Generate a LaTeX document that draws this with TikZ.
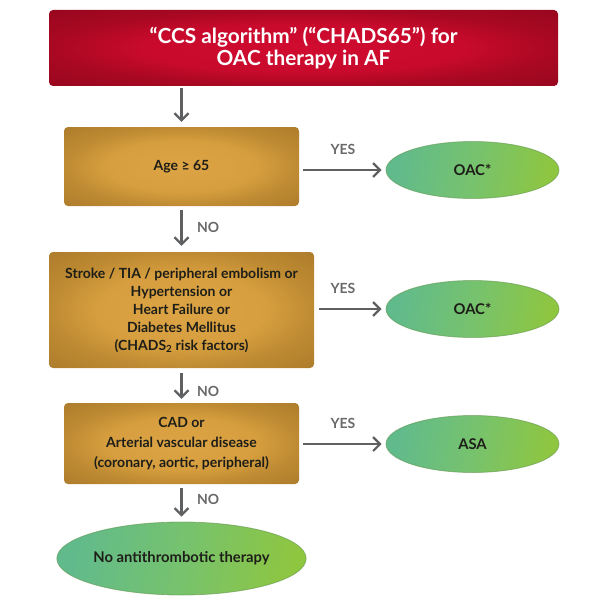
\documentclass[tikz,border=0pt]{standalone}
\usepackage{fontspec}
\setmainfont{Lato}
\usetikzlibrary{arrows.meta,shapes.geometric}
\definecolor{redA}{RGB}{208,12,48}
\definecolor{redB}{RGB}{200,10,44}
\definecolor{redC}{RGB}{168,8,34}
\definecolor{redD}{RGB}{130,6,26}
\definecolor{goldA}{RGB}{220,164,68}
\definecolor{goldB}{RGB}{214,158,62}
\definecolor{goldC}{RGB}{190,138,50}
\definecolor{goldD}{RGB}{150,106,36}
\definecolor{greenL}{RGB}{96,186,140}
\definecolor{greenM}{RGB}{118,194,110}
\definecolor{greenR}{RGB}{142,198,64}
\definecolor{greenEdge}{RGB}{100,150,80}
\definecolor{arrowgray}{RGB}{95,96,98}
\definecolor{lblgray}{RGB}{105,105,105}
\definecolor{textdark}{RGB}{30,30,25}
\pgfdeclareradialshading{redvig}{\pgfpoint{0bp}{0bp}}{color(0bp)=(redA); color(16bp)=(redB); color(25bp)=(redC); color(50bp)=(redD)}
\pgfdeclareradialshading{goldvig}{\pgfpoint{0bp}{0bp}}{color(0bp)=(goldA); color(16bp)=(goldB); color(25bp)=(goldC); color(50bp)=(goldD)}
\begin{document}
\begin{tikzpicture}[x=1pt,y=-1pt,
  titlebox/.style={rectangle, rounded corners=4pt, shading=redvig, minimum width=509pt, minimum height=76pt, inner sep=0pt, text=white, align=center, font=\fontsize{20.8}{22}\selectfont\bfseries},
  decbox/.style={rectangle, rounded corners=4pt, shading=goldvig, inner sep=0pt, text=textdark, align=center, font=\fontsize{14}{18}\selectfont\bfseries},
  outoval/.style={ellipse, left color=greenL, right color=greenR, middle color=greenM, shading angle=80, draw=greenEdge, draw opacity=0.6, line width=0.8pt, inner sep=0pt, text=textdark, font=\fontsize{14.8}{16}\selectfont\bfseries},
  flow/.style={draw=arrowgray, line width=2.2pt, -{Straight Barb[length=7pt,width=14pt,line width=2.2pt]}},
  lbl/.style={text=lblgray, font=\fontsize{14}{15}\selectfont\bfseries, inner sep=0pt}
]
\useasboundingbox (0,0) rectangle (600,607);
\node[titlebox] (title) at (303.5,48) {``CCS algorithm'' (``CHADS65'') for\\OAC therapy in AF};
\node[decbox, minimum width=235pt, minimum height=79pt] (age) at (181.5,166.5) {Age ≥ 65};
\node[decbox, minimum width=265pt, minimum height=116pt] (chads) at (181.5,310) {Stroke / TIA / peripheral embolism or\\Hypertension or\\Heart Failure or\\Diabetes Mellitus\\(CHADS\textsubscript{2} risk factors)};
\node[decbox, minimum width=235pt, minimum height=81pt, font=\fontsize{14}{20}\selectfont\bfseries] (cad) at (181.5,443.5) {CAD or\\Arterial vascular disease\\(coronary, aortic, peripheral)};
\node[outoval, minimum width=173pt, minimum height=57pt] (oac1) at (472.5,170) {OAC*};
\node[outoval, minimum width=173pt, minimum height=57pt] (oac2) at (472.5,309) {OAC*};
\node[outoval, minimum width=173pt, minimum height=57pt] (asa) at (472.5,444) {ASA};
\node[outoval, minimum width=235pt, minimum height=73pt] (none) at (181.5,558.5) {No antithrombotic therapy};
% vertical arrows
\draw[flow, shorten <=2pt, shorten >=5pt] (title.south -| age.north) -- (age.north);
\draw[flow, shorten <=4pt, shorten >=6pt] (age.south) -- (chads.north);
\draw[flow, shorten <=5pt, shorten >=4pt] (chads.south) -- (cad.north);
\draw[flow, shorten <=4pt, shorten >=5pt] (cad.south) -- (none.north);
% horizontal arrows
\draw[flow, shorten <=4pt, shorten >=4pt] (age.east |- oac1.west) -- (oac1.west);
\draw[flow, shorten <=5pt, shorten >=4pt] (chads.east |- oac2.west) -- (oac2.west);
\draw[flow, shorten <=4pt, shorten >=4pt] (cad.east |- asa.west) -- (asa.west);
% labels
\node[lbl] (yes1) at (343,149) {YES};
\node[lbl] (yes2) at (343,288) {YES};
\node[lbl] (yes3) at (343,423) {YES};
\node[lbl, anchor=west] (no1) at (197,227) {NO};
\node[lbl, anchor=west] (no2) at (197,391) {NO};
\node[lbl, anchor=west] (no3) at (197,499) {NO};
\end{tikzpicture}
\end{document}
